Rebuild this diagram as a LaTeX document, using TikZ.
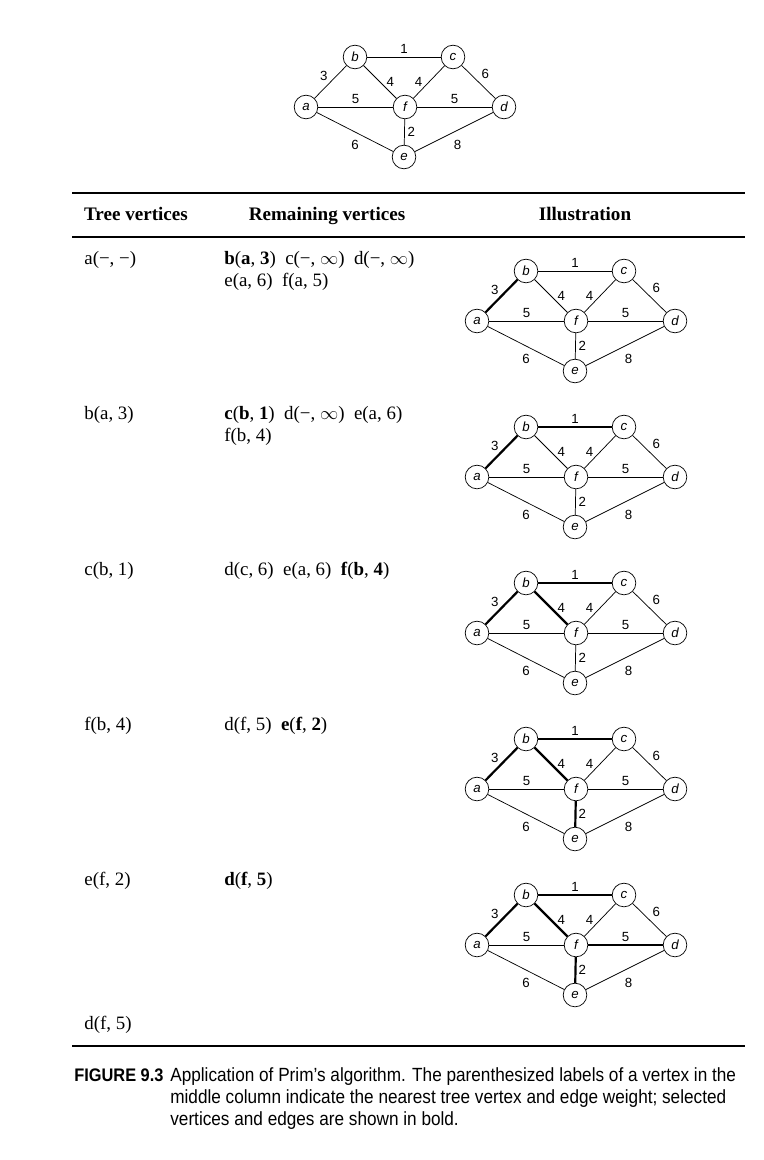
\documentclass[tikz,border=0pt]{standalone}
\usepackage{fontspec}
\setmainfont{Liberation Serif}
\newfontfamily\capfont[FakeStretch=0.9]{Liberation Sans}
\newfontfamily\lblfont{Liberation Sans}
\usetikzlibrary{positioning}

\tikzset{
  vtx/.style      = {circle, draw, line width=0.4pt, fill=white,
                     minimum size=13pt, inner sep=0pt,
                     font=\lblfont\itshape\fontsize{7.3}{8}\selectfont},
  edg/.style      = {draw, line width=0.4pt},
  edgtree/.style  = {draw, line width=1.2pt},
  wlab/.style     = {font=\lblfont\fontsize{7.3}{8}\selectfont, inner sep=1.5pt},
  rowtxt/.style   = {anchor=base west, inner sep=0pt,
                     font=\fontsize{10.4}{12}\selectfont},
  headtxt/.style  = {anchor=base, inner sep=0pt,
                     font=\bfseries\fontsize{10.5}{12}\selectfont},
  tabrule/.style  = {line width=0.7pt},
}

% one copy of the weighted graph, shifted by (#2,#3) pixels
\newcommand{\wgraph}[3]{%
  \begin{scope}[shift={(#2,#3)}]
    \node[vtx] (#1a) at (306,107) {a};
    \node[vtx] (#1b) at (355,57)  {b};
    \node[vtx] (#1c) at (453,57)  {c};
    \node[vtx] (#1f) at (405,107) {f};
    \node[vtx] (#1d) at (504,107) {d};
    \node[vtx] (#1e) at (404,157) {e};
    \draw[edg] (#1a) -- node[wlab, above left, yshift=-1pt] (#1wab) {3} (#1b);
    \draw[edg] (#1b) -- node[wlab, above] (#1wbc) {1} (#1c);
    \draw[edg] (#1b) -- node[wlab, right=2pt] (#1wbf) {4} (#1f);
    \draw[edg] (#1c) -- node[wlab, left=2pt] (#1wcf) {4} (#1f);
    \draw[edg] (#1c) -- node[wlab, above right] (#1wcd) {6} (#1d);
    \draw[edg] (#1a) -- node[wlab, above] (#1waf) {5} (#1f);
    \draw[edg] (#1f) -- node[wlab, above] (#1wfd) {5} (#1d);
    \draw[edg] (#1f) -- node[wlab, right] (#1wfe) {2} (#1e);
    \draw[edg] (#1a) -- node[wlab, below=3pt] (#1wae) {6} (#1e);
    \draw[edg] (#1e) -- node[wlab, below=3pt, xshift=2pt] (#1wed) {8} (#1d);
  \end{scope}}
\newcommand{\inft}{$\infty$}

\begin{document}
\begin{tikzpicture}[x=0.55pt, y=-0.55pt]
  \useasboundingbox (0,0) rectangle (764,1160);

  % graph on top
  \wgraph{g}{0}{0}

  % table
  \coordinate (r1w) at (72,193);  \coordinate (r1e) at (745,193);
  \coordinate (r2w) at (72,237);  \coordinate (r2e) at (745,237);
  \coordinate (r3w) at (72,1046); \coordinate (r3e) at (745,1046);
  \draw[tabrule] (r1w) -- (r1e);
  \draw[tabrule] (r2w) -- (r2e);
  \draw[tabrule] (r3w) -- (r3e);

  \node[headtxt] (htree) at (136,220) {Tree vertices};
  \node[headtxt] (hrem)  at (327,220) {Remaining vertices};
  \node[headtxt] (hill)  at (585,220) {Illustration};

  % row 1
  \node[rowtxt] (t1) at (84,264) {a(−, −)};
  \node[rowtxt] (m1) at (224,264) {\textbf{b}(\textbf{a}, \textbf{3})\ \ c(−, \inft)\ \ d(−, \inft)};
  \node[rowtxt] (m1b) at (224,286) {e(a, 6)\ \ f(a, 5)};
  \wgraph{p}{171}{214}
  \draw[edgtree] (pa) -- (pb);

  % row 2
  \node[rowtxt] (t2) at (84,419) {b(a, 3)};
  \node[rowtxt] (m2) at (224,419) {\textbf{c}(\textbf{b}, \textbf{1})\ \ d(−, \inft)\ \ e(a, 6)};
  \node[rowtxt] (m2b) at (224,441) {f(b, 4)};
  \wgraph{q}{171}{370}
  \draw[edgtree] (qa) -- (qb);
  \draw[edgtree] (qb) -- (qc);

  % row 3
  \node[rowtxt] (t3) at (84,575) {c(b, 1)};
  \node[rowtxt] (m3) at (224,575) {d(c, 6)\ \ e(a, 6)\ \ \textbf{f}(\textbf{b}, \textbf{4})};
  \wgraph{s}{171}{526}
  \foreach \u/\v in {a/b,b/c,b/f} \draw[edgtree] (s\u) -- (s\v);

  % row 4
  \node[rowtxt] (t4) at (84,730) {f(b, 4)};
  \node[rowtxt] (m4) at (224,730) {d(f, 5)\ \ \textbf{e}(\textbf{f}, \textbf{2})};
  \wgraph{u}{171}{682}
  \foreach \u/\v in {a/b,b/c,b/f,f/e} \draw[edgtree] (u\u) -- (u\v);

  % row 5
  \node[rowtxt] (t5) at (84,885) {e(f, 2)};
  \node[rowtxt] (m5) at (224,885) {\textbf{d}(\textbf{f}, \textbf{5})};
  \wgraph{v}{171}{838}
  \foreach \u/\v in {a/b,b/c,b/f,f/e,f/d} \draw[edgtree] (v\u) -- (v\v);

  % last tree vertex
  \node[rowtxt] (t6) at (84,1029) {d(f, 5)};

  % caption
  \node[anchor=base west, inner sep=0pt, font=\capfont\bfseries\fontsize{10}{12}\selectfont]
    (figno) at (74,1081) {FIGURE 9.3};
  \node[anchor=north west, inner sep=0pt, align=left,
        font=\capfont\fontsize{10.5}{12.1}\selectfont] (figcap) at (170,1067)
    {Application of Prim’s algorithm. The parenthesized labels of a vertex in the\\
     middle column indicate the nearest tree vertex and edge weight; selected\\
     vertices and edges are shown in bold.};
\end{tikzpicture}
\end{document}
